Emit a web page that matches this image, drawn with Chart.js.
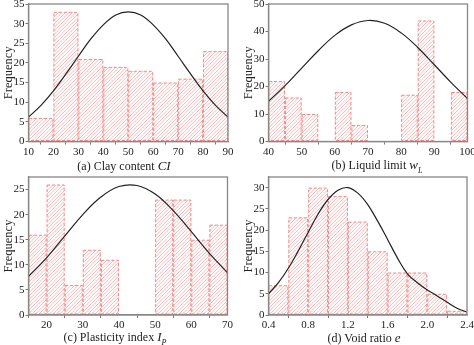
<!DOCTYPE html>
<html>
<head>
<meta charset="utf-8">
<script src="https://cdn.jsdelivr.net/npm/chart.js@4.4.0/dist/chart.umd.min.js"></script>
<style>
  body { margin: 0; background: #fff; }
  #wrap { position: relative; width: 474px; height: 345px; overflow: hidden; }
  #wrap canvas { position: absolute; left: 0; top: 0; }
  .cap { position: absolute; transform: translate(-50%, -50%); font-family: 'Liberation Serif', serif;
         font-size: 12px; color: #222; white-space: nowrap; }
  .cap i { font-size: 13px; }
  .cap sub { font-size: 8px; }
</style>
</head>
<body>
<div id="wrap">
  <canvas id="ca"></canvas>
  <canvas id="cb"></canvas>
  <canvas id="cc"></canvas>
  <canvas id="cd"></canvas>
  <div class="cap" style="left:124px;top:166px">(a) Clay content <i>CI</i></div>
  <div class="cap" style="left:377px;top:166px">(b) Liquid limit <i>w<sub>L</sub></i></div>
  <div class="cap" style="left:115px;top:338px">(c) Plasticity index <i>I<sub>P</sub></i></div>
  <div class="cap" style="left:364px;top:338px">(d) Void ratio <i>e</i></div>
</div>
<script>
// (a) clay content
var clayBins = [15, 25, 35, 45, 55, 65, 75, 85];
var clayFreq = [6, 33, 21, 19, 18, 15, 16, 23];
var clayCurveX = [10, 15, 20, 25, 30, 35, 40, 45, 50, 55, 60, 65, 70, 75, 80, 85, 90];
var clayCurveY = [6.2, 9.2, 12.9, 17.2, 21.7, 26.1, 29.7, 32.2, 33, 32.2, 29.7, 26.1, 21.7, 17.2, 12.9, 9.2, 6.2];

// (b) liquid limit
var llBins = [42.5, 47.5, 52.5, 57.5, 62.5, 67.5, 72.5, 77.5, 82.5, 87.5, 92.5, 97.5];
var llFreq = [22, 16, 10, 0, 18, 6, 0, 0, 17, 44, 0, 18];
var llCurveX = [40, 45, 50, 55, 60, 65, 70, 75, 80, 85, 90, 95, 100];
var llCurveY = [14.6, 20.3, 26.7, 33.0, 38.6, 42.4, 44, 43.0, 39.5, 34.2, 27.9, 21.5, 15.6];

// (c) plasticity index
var piBins = [17.5, 22.5, 27.5, 32.5, 37.5, 42.5, 47.5, 52.5, 57.5, 62.5, 67.5];
var piFreq = [16, 26, 6, 13, 11, 0, 0, 23, 23, 15, 18];
var piCurveX = [15, 20, 25, 30, 35, 40, 45, 50, 55, 60, 65, 70];
var piCurveY = [7.7, 11.4, 15.7, 20.0, 23.5, 25.6, 25.8, 24.1, 20.8, 16.6, 12.3, 8.4];

// (d) void ratio
var voidBins = [0.5, 0.7, 0.9, 1.1, 1.3, 1.5, 1.7, 1.9, 2.1, 2.3];
var voidFreq = [7, 23, 30, 28, 22, 15, 10, 10, 5, 1];
var voidCurveX = [0.4, 0.5, 0.6, 0.7, 0.8, 0.9, 1.0, 1.1, 1.2, 1.3, 1.4, 1.5, 1.6, 1.7, 1.8, 1.9, 2.0, 2.1, 2.2, 2.3, 2.4];
var voidCurveY = [5.0, 7.6, 11.0, 15.1, 19.5, 23.8, 27.2, 29.4, 30, 28.7, 26.0, 22.1, 17.8, 13.4, 9.7, 7.6, 5.9, 4.5, 3.0, 1.6, 0.7];

Chart.defaults.font.family = "'Liberation Serif', serif";
Chart.defaults.font.size = 11;
Chart.defaults.color = '#222';

// bar borders are filled by Chart.js (no dash), so hatch + dashed outline are drawn here
var hatchBars = {
  id: 'hatchBars',
  afterDatasetDraw: function (chart, args) {
    if (args.meta.type !== 'bar') return;
    var g = chart.ctx;
    args.meta.data.forEach(function (el, i) {
      var v = chart.data.datasets[args.index].data[i].y;
      if (!v) return;
      var l = el.x - el.width / 2, r = el.x + el.width / 2, t = el.y, b = el.base, h = b - t;
      g.save();
      g.beginPath();
      g.rect(l, t, r - l, h);
      g.clip();
      g.strokeStyle = '#f7a8a8';
      g.lineWidth = 0.8;
      g.beginPath();
      var start = Math.floor((l - h) / 3.5) * 3.5;
      for (var k = start; k < r; k += 3.5) {
        g.moveTo(k, b);
        g.lineTo(k + h, t);
      }
      g.stroke();
      g.restore();
      g.save();
      g.strokeStyle = '#f08a8a';
      g.lineWidth = 1;
      g.setLineDash([3, 2]);
      g.strokeRect(l + 0.5, t + 0.5, r - l - 1, h - 1);
      g.restore();
    });
  }
};

var frame = {
  id: 'frame',
  afterDraw: function (chart) {
    var a = chart.chartArea, g = chart.ctx;
    g.save();
    g.strokeStyle = '#888';
    g.lineWidth = 1.3;
    g.strokeRect(a.left, a.top, a.right - a.left, a.bottom - a.top);
    g.restore();
  }
};

function pts(xs, ys) {
  return xs.map(function (x, i) { return { x: x, y: ys[i] }; });
}

function panel(id, area, bins, freq, cx, cy, xopt, yopt) {
  var yW = 27, xH = 18;
  var cv = document.getElementById(id);
  cv.width = 474; cv.height = 345;
  return new Chart(cv, {
    type: 'bar',
    data: {
      datasets: [{
        type: 'line',
        data: pts(cx, cy),
        borderColor: '#222',
        borderWidth: 1.2,
        pointRadius: 0,
        tension: 0.4,
        fill: false
      }, {
        data: pts(bins, freq),
        backgroundColor: 'rgba(255,255,255,0)',
        borderWidth: 0,
        barPercentage: 1,
        categoryPercentage: 1
      }]
    },
    options: {
      responsive: false,
      animation: false,
      events: [],
      layout: { padding: { left: area[0] - yW, right: 474 - area[1], top: area[2], bottom: 345 - area[3] - xH } },
      plugins: { legend: { display: false }, tooltip: { enabled: false } },
      scales: {
        x: Object.assign({
          type: 'linear',
          offset: false,
          grid: { drawOnChartArea: false, tickLength: 3, color: '#777' },
          border: { color: '#888', width: 1.3 },
          afterFit: function (s) { s.height = xH; s.paddingLeft = 0; s.paddingRight = 0; }
        }, xopt),
        y: Object.assign({
          min: 0,
          grid: { drawOnChartArea: false, tickLength: 3, color: '#777' },
          border: { color: '#888', width: 1.3 },
          title: { display: true, text: 'Frequency', font: { size: 12.5 }, padding: 0 },
          afterFit: function (s) { s.width = yW; s.paddingTop = 0; s.paddingBottom = 0; }
        }, yopt)
      }
    },
    plugins: [hatchBars, frame]
  });
}

panel('ca', [28.5, 228, 4, 141.5], clayBins, clayFreq, clayCurveX, clayCurveY,
  { min: 10, max: 90, ticks: { stepSize: 10, padding: 1, maxRotation: 0, autoSkip: false } },
  { max: 35, ticks: { stepSize: 5, padding: 1, includeBounds: false } });

panel('cb', [268.5, 467.5, 4, 141.5], llBins, llFreq, llCurveX, llCurveY,
  { min: 40, max: 100, ticks: { stepSize: 10, padding: 1, maxRotation: 0, autoSkip: false } },
  { max: 50, ticks: { stepSize: 10, padding: 1, includeBounds: false } });

panel('cc', [28.5, 227.5, 177, 315], piBins, piFreq, piCurveX, piCurveY,
  { min: 15, max: 70, ticks: { stepSize: 10, padding: 1, maxRotation: 0, autoSkip: false, includeBounds: false } },
  { max: 27.5, ticks: { stepSize: 5, padding: 1, includeBounds: false } });

panel('cd', [268.5, 467, 177, 315], voidBins, voidFreq, voidCurveX, voidCurveY,
  { min: 0.4, max: 2.4, ticks: { stepSize: 0.4, padding: 1, maxRotation: 0, autoSkip: false,
    callback: function (v) { return v.toFixed(1); } } },
  { max: 32.5, ticks: { stepSize: 5, padding: 1, includeBounds: false } });
</script>
</body>
</html>
